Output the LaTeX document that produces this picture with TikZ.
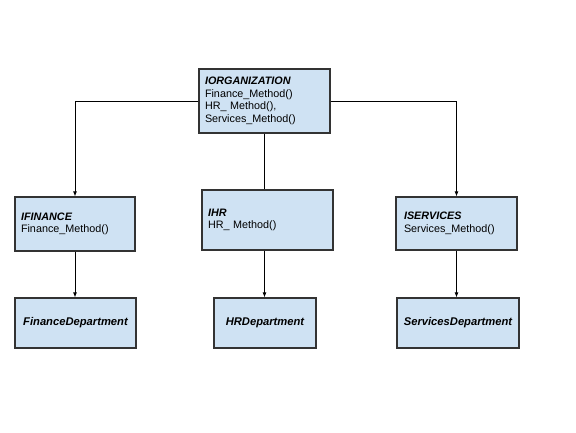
\documentclass[tikz,border=0pt]{standalone}
\usepackage{fontspec}
\setmainfont{Liberation Sans}
\usetikzlibrary{arrows.meta}
\definecolor{boxfill}{HTML}{CFE2F3}
\definecolor{boxline}{HTML}{333333}

\begin{document}
\begin{tikzpicture}
		[x=1pt, y=-1pt,
		box/.style={rectangle, draw=boxline, fill=boxfill, line width=1.3pt, inner xsep=6pt, inner ysep=0pt, font=\fontsize{10.8}{12.5}\selectfont},
		iface/.style={box, align=left},
		impl/.style={box, align=center, font=\fontsize{11.2}{12.5}\selectfont\bfseries\itshape},
		link/.style={line width=0.8pt, -{Latex[length=5pt, width=4pt]}}]
		\useasboundingbox (0,0) rectangle (576,432);
		\node[iface, minimum width=131pt, minimum height=64pt, text width=119pt] (org) at (264.5,101)
			{\textbf{\textit{IORGANIZATION}}\\Finance\_Method()\\HR\_ Method(),\\Services\_Method()};
		\node[iface, minimum width=120pt, minimum height=54pt, text width=108pt] (fin) at (75,224)
			{\textbf{\textit{IFINANCE}}\\Finance\_Method()};
		\node[iface, minimum width=131pt, minimum height=60pt, text width=119pt] (hr) at (267.5,220)
			{\textbf{\textit{IHR}}\\HR\_ Method()};
		\node[iface, minimum width=121pt, minimum height=53pt, text width=105pt, inner xsep=8pt] (serv) at (456.5,223.5)
			{\textbf{\textit{ISERVICES}}\\Services\_Method()};
		\node[impl, minimum width=121pt, minimum height=50pt] (findep) at (75.5,323) {FinanceDepartment};
		\node[impl, minimum width=102pt, minimum height=50pt] (hrdep) at (265,323) {HRDepartment};
		\node[impl, minimum width=122pt, minimum height=50pt] (servdep) at (458,323) {ServicesDepartment};

		\draw[link] (org.west) -| (fin.north);
		\draw[link] (org.east) -| (serv.north);
		\draw[line width=0.8pt] (org.south) -- (org.south |- hr.north);
		\draw[link] (fin.south) -- (fin.south |- findep.north);
		\draw[link] (org.south |- hr.south) -- (org.south |- hrdep.north);
		\draw[link] (serv.south) -- (serv.south |- servdep.north);
	\end{tikzpicture}
\end{document}
